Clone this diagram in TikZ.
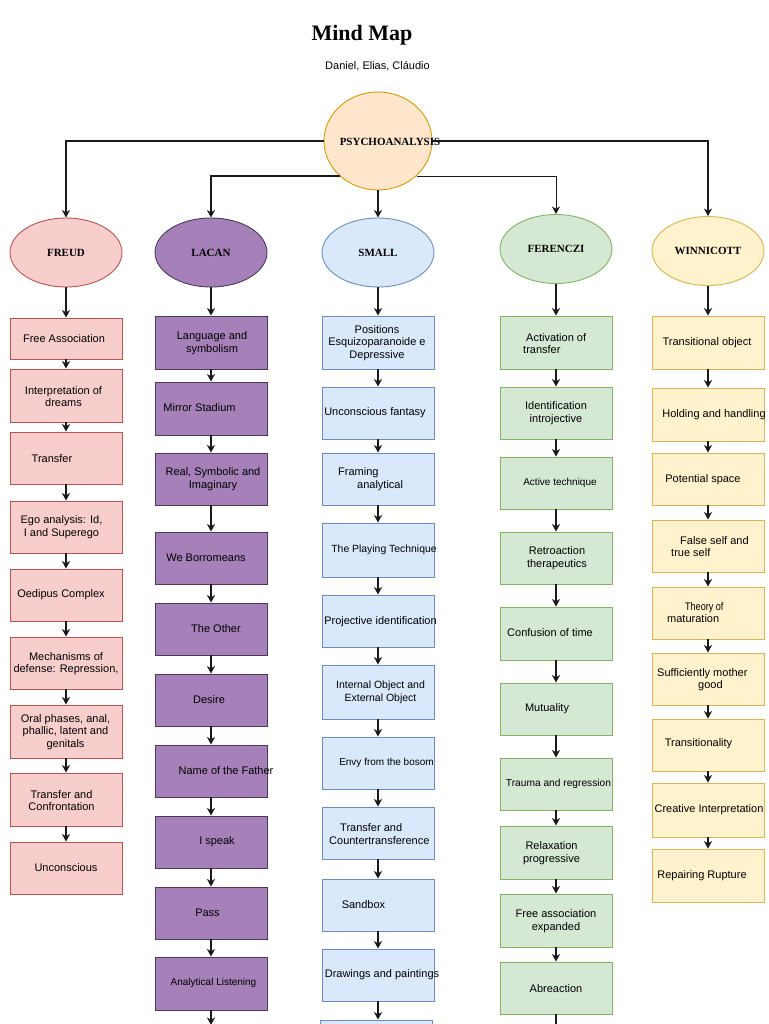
\documentclass[tikz,border=0pt]{standalone}
\usepackage{fontspec}
\usepackage{graphicx}
\setmainfont{Liberation Serif}
\setsansfont{Liberation Sans}
\usetikzlibrary{arrows.meta,shapes.geometric}
\definecolor{frF}{HTML}{F8CECC}\definecolor{frD}{HTML}{B85450}
\definecolor{laF}{HTML}{A680B8}\definecolor{laD}{HTML}{4A3A58}
\definecolor{smF}{HTML}{DAE8FC}\definecolor{smD}{HTML}{6C8EBF}
\definecolor{feF}{HTML}{D5E8D4}\definecolor{feD}{HTML}{82B366}
\definecolor{wiF}{HTML}{FFF2CC}\definecolor{wiD}{HTML}{D6B656}
\definecolor{rtF}{HTML}{FFE6CC}\definecolor{rtD}{HTML}{D79B00}
\definecolor{lineC}{HTML}{1A1A1A}
\begin{document}
\begin{tikzpicture}[x=1pt,y=-1pt,
  bxbase/.style={draw, line width=0.9pt, minimum width=112pt, minimum height=52pt, inner sep=0pt},
  fr/.style={bxbase, fill=frF, draw=frD},
  la/.style={bxbase, fill=laF, draw=laD},
  sm/.style={bxbase, fill=smF, draw=smD},
  fe/.style={bxbase, fill=feF, draw=feD},
  wi/.style={bxbase, fill=wiF, draw=wiD},
  ell/.style={ellipse, line width=0.9pt, minimum width=112pt, minimum height=69pt, inner sep=0pt, font=\rmfamily\bfseries\fontsize{11}{13}\selectfont},
  tx/.style={font=\sffamily\fontsize{11}{12.7}\selectfont, align=center, inner sep=0pt, yshift=-1pt},
  txs/.style={tx, font=\sffamily\fontsize{10}{12}\selectfont},
  txl/.style={tx, align=left, anchor=west},
  arr/.style={draw=lineC, line width=1.2pt, -{Stealth[length=7.5pt,width=8pt,inset=2.2pt]}},
]
\fill[white] (0,0) rectangle (768,1024);
\useasboundingbox (0,0) rectangle (768,1024);

% title
\node[font=\rmfamily\bfseries\fontsize{22}{26}\selectfont, anchor=base, inner sep=0pt] (title) at (362,41) {Mind Map};
\node[font=\sffamily\fontsize{11}{13}\selectfont, anchor=base, inner sep=0pt] (subtitle) at (377.5,70) {Daniel, Elias, Cl\'audio};

% root
\node[ellipse, draw=rtD, fill=rtF, line width=0.9pt, minimum width=108pt, minimum height=98pt, inner sep=0pt] (root) at (378,141) {};
\node[font=\rmfamily\bfseries\fontsize{11}{13}\selectfont, inner sep=0pt] (rootlabel) at (390,141.5) {PSYCHOANALYSIS};

% level 1
\node[ell, draw=frD, fill=frF] (freud) at (66,252.5) {FREUD};
\node[ell, draw=laD, fill=laF] (lacan) at (211,252.5) {LACAN};
\node[ell, draw=smD, fill=smF] (small) at (378,252.5) {SMALL};
\node[ell, draw=feD, fill=feF] (ferenczi) at (556,249) {FERENCZI};
\node[ell, draw=wiD, fill=wiF] (winn) at (708,251) {WINNICOTT};

\draw[arr] (root.west) -| (freud.north);
\draw[arr] (root.east) -| (winn.north);
\draw[arr] (root.south west) -| (lacan.north);
\draw[arr, line width=0.9pt] (root.south east) -| (ferenczi.north);
\draw[arr] (root.south) -- (small.north);

% FREUD column
\node[fr, minimum height=41pt] (f1) at (66,338.5) {};
\node[fr, minimum height=53pt] (f2) at (66,395.5) {};
\node[fr] (f3) at (66,458) {};
\node[fr] (f4) at (66,527) {};
\node[fr] (f5) at (66,595) {};
\node[fr] (f6) at (66,663) {};
\node[fr, minimum height=53pt] (f7) at (66,731.5) {};
\node[fr, minimum height=53pt] (f8) at (66,799.5) {};
\node[fr] (f9) at (66,868) {};
\node[tx] (tf1) at (64,338) {Free Association};
\node[tx] (tf2) at (63.5,395.5) {Interpretation of\\dreams};
\node[tx] (tf3) at (52,458) {Transfer};
\node[tx] (tf4) at (61.5,526.5) {Ego analysis: Id,\\I and Superego};
\node[tx] (tf5) at (61,594) {Oedipus Complex};
\node[tx] (tf6) at (66,662.5) {Mechanisms of\\defense: Repression,};
\node[tx] (tf7) at (65.5,731) {Oral phases, anal,\\phallic, latent and\\genitals};
\node[tx] (tf8) at (61.5,799.5) {Transfer and\\Confrontation};
\node[tx] (tf9) at (66,867) {Unconscious};

% LACAN column
\node[la, minimum height=53pt] (l1) at (211,342.5) {};
\node[la, minimum height=53pt] (l2) at (211,408.5) {};
\node[la] (l3) at (211,479) {};
\node[la] (l4) at (211,558) {};
\node[la] (l5) at (211,629) {};
\node[la] (l6) at (211,700) {};
\node[la] (l7) at (211,771) {};
\node[la] (l8) at (211,842) {};
\node[la] (l9) at (211,913) {};
\node[la, minimum height=53pt] (l10) at (211,983.5) {};
\node[tx] (tl1) at (212,342.5) {Language and\\symbolism};
\node[tx] (tl2) at (199.5,407) {Mirror Stadium};
\node[tx] (tl3) at (213,478.5) {Real, Symbolic and\\Imaginary};
\node[tx] (tl4) at (206,557) {We Borromeans};
\node[tx] (tl5) at (216,628) {The Other};
\node[tx] (tl6) at (209,699) {Desire};
\node[tx] (tl7) at (226,770) {Name of the Father};
\node[tx] (tl8) at (217,840.5) {I speak};
\node[tx] (tl9) at (207.5,912) {Pass};
\node[txs] (tl10) at (213.5,982) {Analytical Listening};

% SMALL column
\node[sm, minimum height=53pt] (s1) at (378,342.5) {};
\node[sm] (s2) at (378,413) {};
\node[sm] (s3) at (378,479) {};
\node[sm, minimum height=54pt] (s4) at (378,550) {};
\node[sm] (s5) at (378,621) {};
\node[sm, minimum height=54pt] (s6) at (378,692) {};
\node[sm] (s7) at (378,763) {};
\node[sm] (s8) at (378,833) {};
\node[sm] (s9) at (378,905) {};
\node[sm] (s10) at (378,975) {};
\node[sm] (s11) at (376,1046) {};
\node[tx] (ts1) at (377,342) {Positions\\Esquizoparanoide e\\Depressive};
\node[tx] (ts2) at (375,412) {Unconscious fantasy};
\node[txl] (ts3) at (338,478.5) {Framing\\\hspace*{19pt}analytical};
\node[tx, font=\sffamily\fontsize{10.4}{12.5}\selectfont] (ts4) at (384,549) {The Playing Technique};
\node[tx] (ts5) at (380.5,621) {Projective identification};
\node[tx, font=\sffamily\fontsize{10.5}{12.5}\selectfont] (ts6) at (380.5,691.5) {Internal Object and\\External Object};
\node[txs] (ts7) at (386.5,762) {Envy from the bosom};
\node[txl] (ts8) at (329,833) {\hspace*{11pt}Transfer and\\Countertransference};
\node[tx] (ts9) at (363.5,904) {Sandbox};
\node[tx] (ts10) at (382,974) {Drawings and paintings};

% FERENCZI column
\node[fe, minimum height=53pt] (e1) at (556,342.5) {};
\node[fe] (e2) at (556,413) {};
\node[fe] (e3) at (556,483) {};
\node[fe] (e4) at (556,558) {};
\node[fe, minimum height=53pt] (e5) at (556,633.5) {};
\node[fe] (e6) at (556,709) {};
\node[fe] (e7) at (556,784) {};
\node[fe, minimum height=53pt] (e8) at (556,852.5) {};
\node[fe, minimum height=53pt] (e9) at (556,920.5) {};
\node[fe] (e10) at (556,988) {};
\node[txl] (te1) at (523,342.5) {\hspace*{3pt}Activation of\\transfer};
\node[tx] (te2) at (556,412) {Identification\\introjective};
\node[txs] (te3) at (560,482) {Active technique};
\node[tx] (te4) at (557,557.5) {Retroaction\\therapeutics};
\node[tx] (te5) at (550,632) {Confusion of time};
\node[tx] (te6) at (547,708) {Mutuality};
\node[tx, font=\sffamily\fontsize{10.2}{12}\selectfont] (te7) at (558.5,783) {Trauma and regression};
\node[tx] (te8) at (551.5,852) {Relaxation\\progressive};
\node[tx] (te9) at (556,920) {Free association\\expanded};
\node[tx] (te10) at (556,987.5) {Abreaction};

% WINNICOTT column
\node[wi, minimum height=53pt] (w1) at (708,342.5) {};
\node[wi, minimum height=53pt] (w2) at (708,414.5) {};
\node[wi] (w3) at (708,479) {};
\node[wi] (w4) at (708,546) {};
\node[wi] (w5) at (708,613) {};
\node[wi] (w6) at (708,679) {};
\node[wi] (w7) at (708,745) {};
\node[wi, minimum height=54pt] (w8) at (708,810) {};
\node[wi, minimum height=53pt] (w9) at (708,875.5) {};
\node[tx] (tw1) at (707,342) {Transitional object};
\node[tx] (tw2) at (714,414) {Holding and handling};
\node[tx] (tw3) at (703,479) {Potential space};
\node[txl] (tw4) at (671,545.5) {\hspace*{9pt}False self and\\true self};
\node[txl] (tw5) at (667,611.5) {\hspace*{18pt}\scalebox{0.82}[1]{Theory of}\\maturation};
\node[txl] (tw6) at (657,678.5) {Sufficiently mother\\\hspace*{41pt}good};
\node[tx] (tw7) at (698.5,743) {Transitionality};
\node[tx] (tw8) at (709,809) {Creative Interpretation};
\node[tx] (tw9) at (702,875) {Repairing Rupture};

% column connectors
\foreach \a/\b in {freud/f1,f1/f2,f2/f3,f3/f4,f4/f5,f5/f6,f6/f7,f7/f8,f8/f9,
  lacan/l1,l1/l2,l2/l3,l3/l4,l4/l5,l5/l6,l6/l7,l7/l8,l8/l9,l9/l10,
  small/s1,s1/s2,s2/s3,s3/s4,s4/s5,s5/s6,s6/s7,s7/s8,s8/s9,s9/s10,
  ferenczi/e1,e1/e2,e2/e3,e3/e4,e4/e5,e5/e6,e6/e7,e7/e8,e8/e9,e9/e10,
  winn/w1,w1/w2,w2/w3,w3/w4,w4/w5,w5/w6,w6/w7,w7/w8,w8/w9}
  \draw[arr] (\a.south) -- (\b.north);
\draw[arr] (s10.south) -- (s10.south |- s11.north);
\coordinate (lend) at (211,1025);
\coordinate (eend) at (556,1036);
\draw[arr] (l10.south) -- (lend);
\draw[arr] (e10.south) -- (eend);
\end{tikzpicture}
\end{document}
